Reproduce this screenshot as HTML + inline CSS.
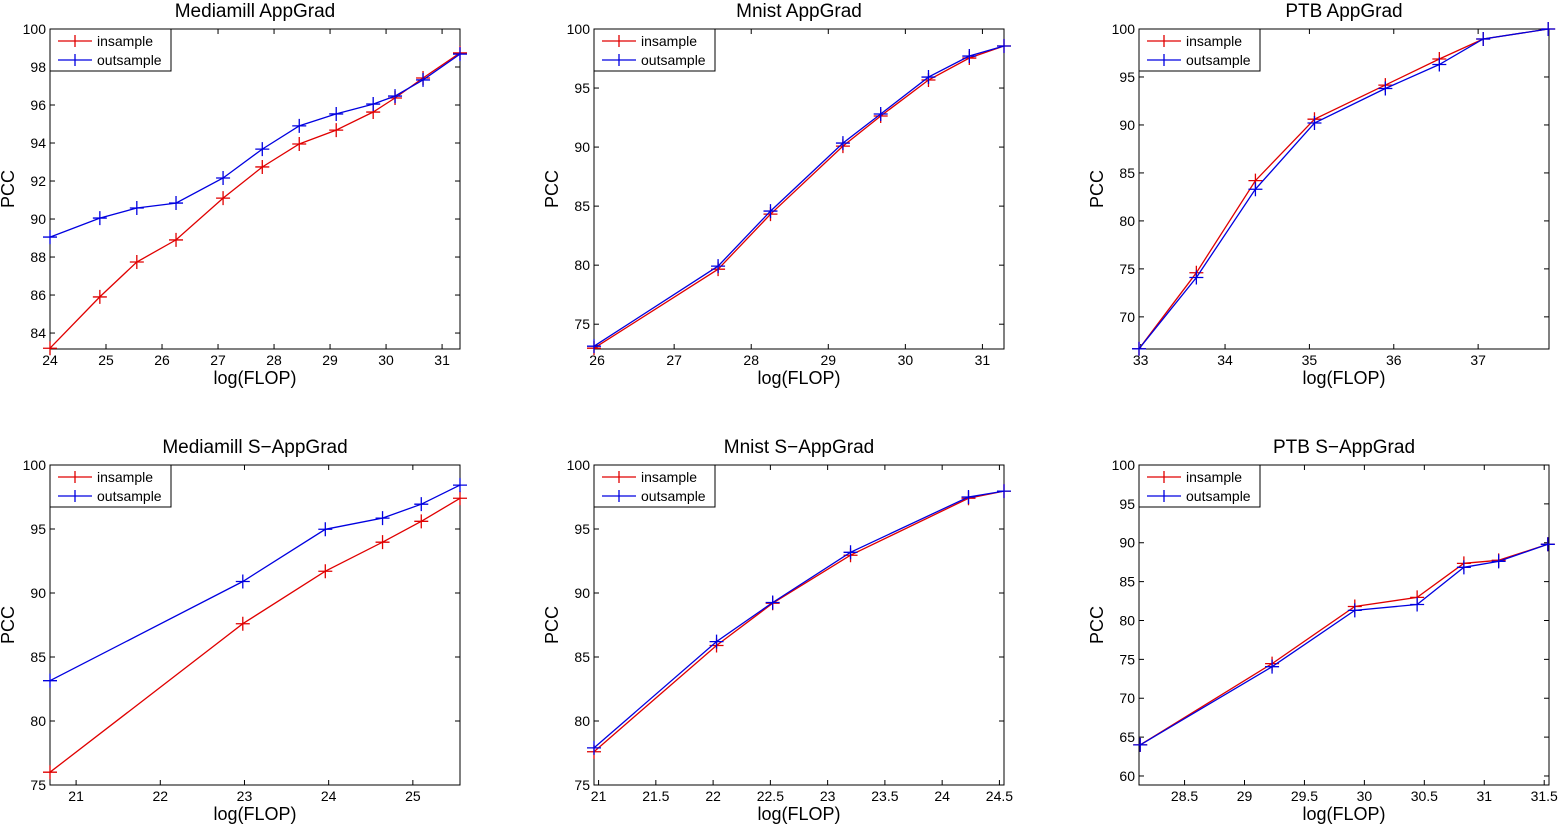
<!DOCTYPE html>
<html><head><meta charset="utf-8"><style>
body{margin:0;background:#fff}
svg{display:block;font-family:"Liberation Sans",Arial,sans-serif}
</style></head><body>
<svg id="chart" width="1559" height="824" viewBox="0 0 1559 824"></svg>
<script>
const titles=["Mediamill AppGrad","Mnist AppGrad","PTB AppGrad","Mediamill S\u2212AppGrad","Mnist S\u2212AppGrad","PTB S\u2212AppGrad"];
const xIn=[[24,24.89,25.55,26.25,27.09,27.79,28.45,29.11,29.77,30.16,30.66,31.32],[25.96,27.57,28.25,29.19,29.68,30.3,30.83,31.28],[32.98,33.66,34.36,35.06,35.9,36.54,37.06,37.83],[20.69,22.98,23.96,24.64,25.1,25.56],[20.96,22.03,22.52,23.2,24.23,24.54],[28.13,29.23,29.92,30.44,30.83,31.12,31.53]];
const yIn=[[83.2,85.9,87.74,88.9,91.1,92.74,93.95,94.68,95.63,96.37,97.42,98.74],[72.97,79.66,84.32,90.08,92.63,95.68,97.54,98.56],[66.67,74.6,84.2,90.6,94.15,96.87,98.96,100],[76.0,87.6,91.7,93.97,95.6,97.4],[77.6,85.9,89.2,92.95,97.4,97.96],[64.0,74.45,81.8,82.97,87.35,87.74,89.8]];
const yOut=[[89.05,90.05,90.58,90.84,92.16,93.68,94.9,95.53,96.05,96.47,97.32,98.68],[73.14,79.92,84.58,90.34,92.8,95.93,97.71,98.56],[66.67,74.1,83.3,90.2,93.8,96.3,98.96,100],[83.15,90.9,94.98,95.85,96.94,98.43],[77.9,86.2,89.26,93.18,97.5,97.96],[64.0,74.06,81.3,82.06,86.84,87.6,89.8]];
const xTicks=[[24,25,26,27,28,29,30,31],[26,27,28,29,30,31],[33,34,35,36,37],[21,22,23,24,25],[21,21.5,22,22.5,23,23.5,24,24.5],[28.5,29,29.5,30,30.5,31,31.5]];
const yTicks=[[84,86,88,90,92,94,96,98,100],[75,80,85,90,95,100],[70,75,80,85,90,95,100],[75,80,85,90,95,100],[75,80,85,90,95,100],[60,65,70,75,80,85,90,95,100]];
const xRange=[[24,31.32],[25.96,31.28],[32.98,37.84],[20.69,25.56],[20.96,24.54],[28.12,31.54]];
const yRange=[[83.16,100],[72.9,100],[66.65,100],[75,100],[75,100],[58.84,100]];
const NS="http://www.w3.org/2000/svg";
const svg=document.getElementById('chart');
function mk(tag,at,parent,txt){const e=document.createElementNS(NS,tag);for(const k in at)e.setAttribute(k,at[k]);if(txt!==undefined)e.textContent=txt;parent.appendChild(e);return e;}
const lefts=[50,594,1139],tops=[29,465];const W=410,H=320;
for(let p=0;p<6;p++){
 const L=lefts[p%3],T=tops[Math.floor(p/3)];
 const g=mk('g',{},svg);
 
 
 const sx=v=>L+(v-xRange[p][0])/(xRange[p][1]-xRange[p][0])*W;
 const sy=v=>T+H-(v-yRange[p][0])/(yRange[p][1]-yRange[p][0])*H;
 const t=mk('text',{x:L+W/2,y:T-12,'text-anchor':'middle','font-size':19},g,titles[p]);
 
 
 mk('rect',{x:L,y:T,width:W,height:H,fill:'none',stroke:'#000','stroke-width':1},g);
 xTicks[p].forEach(v=>{const x=sx(v);
  mk('line',{x1:x,x2:x,y1:T+H,y2:T+H-5,stroke:'#000'},g);mk('line',{x1:x,x2:x,y1:T,y2:T+5,stroke:'#000'},g);
  const tl=mk('text',{x:x,y:T+H+16,'text-anchor':'middle','font-size':14},g,String(v));
  
  });
 yTicks[p].forEach(v=>{const y=sy(v);
  mk('line',{x1:L,x2:L+5,y1:y,y2:y,stroke:'#000'},g);mk('line',{x1:L+W,x2:L+W-5,y1:y,y2:y,stroke:'#000'},g);
  const tl=mk('text',{x:L-4,y:y+5,'text-anchor':'end','font-size':14},g,String(v));
  
  });
 const xl=mk('text',{x:L+W/2,y:T+H+35,'text-anchor':'middle','font-size':18},g,'log(FLOP)');
 
 
 const yl=mk('text',{x:0,y:0,'text-anchor':'middle','font-size':18,transform:`translate(${L-36},${T+H/2}) rotate(-90)`},g,'PCC');
 
 
 [[yIn[p],'#e00000','insample'],[yOut[p],'#0000e0','outsample']].forEach(([ys,c,n])=>{
  const pts=xIn[p].map((x,i)=>sx(x).toFixed(1)+','+sy(ys[i]).toFixed(1)).join(' ');
  const pl=mk('polyline',{points:pts,fill:'none',stroke:c,'stroke-width':1.3},g);
  
  
  xIn[p].forEach((x,i)=>{const cx=sx(x),cy=sy(ys[i]);
   const m=mk('path',{d:`M${cx-7},${cy}H${cx+7}M${cx},${cy-7}V${cy+7}`,stroke:c,'stroke-width':1.3},g);
   
   });
 });
 const lg=mk('g',{},g);
 
 
 mk('rect',{x:L,y:T,width:121,height:42,fill:'#fff',stroke:'#000'},lg);
 [['#e00000','insample',T+12],['#0000e0','outsample',T+31]].forEach(([c,n,y])=>{
  mk('path',{d:`M${L+8},${y}H${L+42}M${L+25},${y-6}V${y+6}`,stroke:c,'stroke-width':1.3},lg);
  const lt=mk('text',{x:L+47,y:y+5,'font-size':14},lg,n);
  
  });
}
</script>
</body></html>
